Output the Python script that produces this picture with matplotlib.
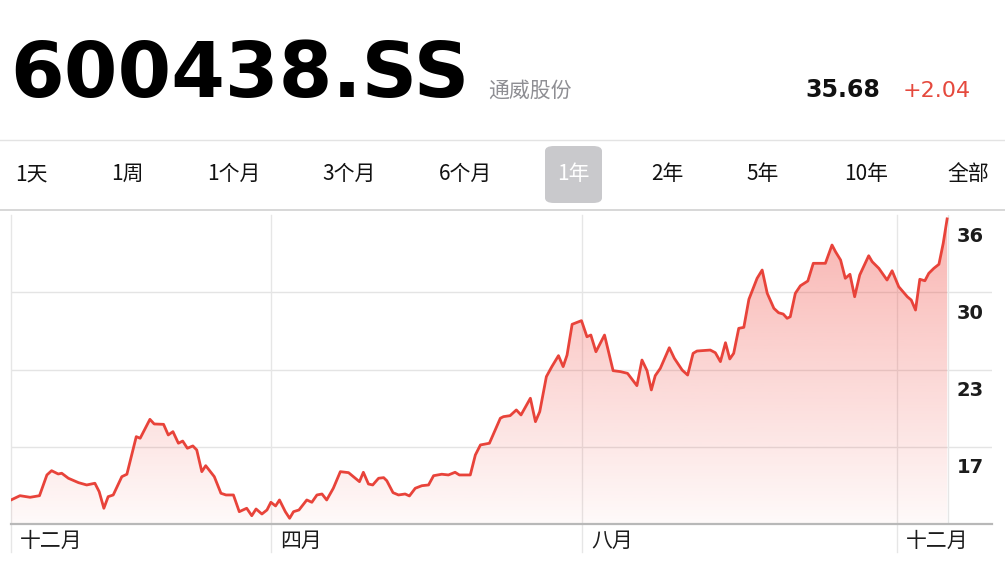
import matplotlib
matplotlib.use("Agg")
import matplotlib.pyplot as plt
import numpy as np
from matplotlib.patches import FancyBboxPatch
from matplotlib.lines import Line2D

plt.rcParams['font.family'] = ['DejaVu Sans', 'Noto Sans CJK SC']

# Header
ticker = "600438.SS"
company = "通威股份"
last_price = "35.68"
change = "+2.04"
ranges = ["1天", "1周", "1个月", "3个月", "6个月", "1年", "2年", "5年", "10年", "全部"]
range_x = [31, 127, 234, 349, 465, 573, 667, 763, 866, 968]  # pixel centres
selected_range = "1年"

# Price series (trading-day index, price)
days = [0, 2.3, 4.9, 7.3, 9.2, 10.4, 12.1, 13.0, 14.7, 17.3, 19.4, 21.5, 22.6, 23.8, 24.9,
        26.2, 28.4, 29.7, 32.1, 33.1, 35.6, 36.7, 39.1, 40.3, 41.5, 42.9, 44.0, 45.2, 46.6,
        47.6, 48.9, 49.9, 52.1, 53.8, 55.1, 57.0, 58.5, 60.4, 61.7, 62.8, 64.3, 65.6, 66.6,
        67.8, 68.8, 70.3, 71.4, 72.4, 73.8, 75.8, 77.1, 78.4, 79.7, 80.9, 82.6, 84.4, 86.5,
        89.3, 90.3, 91.6, 92.7, 94.2, 95.5, 96.3, 97.9, 99.3, 101.0, 102.1, 103.6, 105.3,
        107.0, 108.3, 110.4, 112.1, 113.8, 114.9, 117.7, 119.0, 120.3, 122.6, 125.4, 126.2,
        127.9, 129.5, 130.7, 133.1, 134.4, 135.5, 137.2, 138.6, 140.3, 141.5, 142.5, 143.8,
        146.2, 147.6, 148.6, 149.9, 152.1, 154.3, 156.2, 158.0, 160.4, 161.7, 163.0, 164.1,
        165.1, 166.4, 168.7, 170.0, 172.0, 173.4, 174.8, 175.8, 179.2, 180.5, 181.8, 183.1,
        184.2, 185.2, 186.5, 187.8, 189.1, 191.2, 192.5, 193.8, 195.5, 196.7, 197.9, 198.9,
        199.7, 201.0, 202.3, 204.2, 205.6, 208.7, 210.4, 211.3, 212.6, 213.8, 215.0, 216.2,
        217.5, 219.8, 220.7, 222.4, 224.5, 225.8, 227.5, 229.7, 230.7, 231.8, 232.9, 234.2,
        235.2, 236.5, 237.8, 238.9, 239.9]
prices = [12.64, 12.99, 12.86, 12.99, 14.69, 15.04, 14.77, 14.83, 14.42, 14.06, 13.87, 14.01,
          13.32, 11.96, 12.91, 13.05, 14.55, 14.75, 17.83, 17.70, 19.25, 18.87, 18.84, 17.97,
          18.24, 17.29, 17.47, 16.88, 17.07, 16.74, 14.96, 15.45, 14.55, 13.19, 13.05, 13.05,
          11.68, 11.96, 11.35, 11.90, 11.49, 11.82, 12.45, 12.15, 12.64, 11.68, 11.14, 11.68,
          11.82, 12.64, 12.45, 13.05, 13.13, 12.64, 13.60, 14.96, 14.88, 14.14, 14.91, 13.95,
          13.87, 14.42, 14.47, 14.22, 13.24, 13.05, 13.13, 12.97, 13.60, 13.81, 13.87, 14.63,
          14.75, 14.69, 14.91, 14.69, 14.69, 16.33, 17.15, 17.29, 19.34, 19.47, 19.55, 20.02,
          19.61, 20.98, 19.06, 19.88, 22.75, 23.57, 24.47, 23.57, 24.52, 27.04, 27.34, 26.02,
          26.16, 24.79, 26.16, 23.24, 23.16, 23.02, 22.01, 24.11, 23.24, 21.66, 22.83, 23.43,
          25.12, 24.25, 23.29, 22.88, 24.66, 24.85, 24.93, 24.71, 23.98, 25.53, 24.20, 24.66,
          26.71, 26.79, 29.09, 30.81, 31.49, 29.58, 28.35, 27.99, 27.88, 27.53, 27.66, 29.58,
          30.20, 30.59, 32.04, 32.04, 33.54, 32.99, 32.31, 30.81, 31.14, 29.30, 31.08, 32.66,
          32.17, 31.63, 30.67, 31.43, 30.12, 29.30, 29.03, 28.21, 30.73, 30.61, 31.22, 31.63,
          31.96, 33.68, 35.68]

# Axis ticks
price_ticks = [36, 29.67, 23.33, 17]
price_tick_labels = ["36", "30", "23", "17"]
month_ticks = [0, 66.6, 146.3, 227.1]
month_labels = ["十二月", "四月", "八月", "十二月"]

W, H = 1005, 561
fig = plt.figure(figsize=(W / 100, H / 100), dpi=100)
fig.patch.set_facecolor("white")

def fy(py):
    return (H - py) / H

def fx(px):
    return px / W

# header text
fig.text(fx(10), fy(97), ticker, fontsize=55.5, fontweight="bold", color="black", va="baseline")
fig.text(fx(488), fy(97), company, fontsize=15, color="#8e8e93", va="baseline",
         family=["Noto Sans CJK SC", "DejaVu Sans"])
fig.text(fx(805), fy(97), last_price, fontsize=17, fontweight="bold", color="#111111", va="baseline")
fig.text(fx(903), fy(97), change, fontsize=16, color="#e5493d", va="baseline")

fig.add_artist(Line2D([0, 1], [fy(140), fy(140)], color="#e3e3e3", lw=1))
fig.add_artist(Line2D([0, 1], [fy(210), fy(210)], color="#d4d4d4", lw=1.3))

for lab, px in zip(ranges, range_x):
    col = "#111111"
    if lab == selected_range:
        box = FancyBboxPatch((fx(545), fy(203)), fx(57), (203 - 146) / H,
                             boxstyle="round,pad=0,rounding_size=0.009",
                             transform=fig.transFigure, facecolor="#c9c9cc",
                             edgecolor="none")
        fig.add_artist(box)
        col = "white"
    fig.text(fx(px), fy(174), lab, fontsize=15, color=col, ha="center", va="center",
             family=["Noto Sans CJK SC", "DejaVu Sans"])

# chart
ax = fig.add_axes([fx(11), fy(524), fx(981), (524 - 215) / H])
ax.set_facecolor("white")
for s in ax.spines.values():
    s.set_visible(False)
ax.set_xticks([])
ax.set_yticks([])
ymin, ymax = 10.67, 36.0
ax.set_ylim(ymin, ymax)
ax.set_xlim(0, 251.4)

for v in price_ticks[1:]:
    ax.axhline(v, color="#e4e4e4", lw=1, zorder=1)
for t in month_ticks:
    ax.axvline(t, ymin=-0.09, ymax=1, color="#e6e6e6", lw=1, clip_on=False, zorder=1)
ax.axvline(days[-1] + 0.1, color="#e6e6e6", lw=1, zorder=1)
ax.axhline(ymin, color="#b8b8b8", lw=1.6, zorder=4, clip_on=False)

# gradient fill under the line
poly = ax.fill_between(days, prices, ymin, facecolor="none", edgecolor="none")
n = 256
alpha = np.linspace(0.03, 0.42, n).reshape(-1, 1)
rgba = np.zeros((n, 1, 4))
rgba[..., 0] = 0xf0 / 255
rgba[..., 1] = 0x4a / 255
rgba[..., 2] = 0x42 / 255
rgba[..., 3] = alpha
im = ax.imshow(rgba, extent=[days[0], days[-1], ymin, ymax], origin="lower",
               aspect="auto", zorder=2)
im.set_clip_path(poly.get_paths()[0], transform=ax.transData)

ax.plot(days, prices, color="#e8433a", lw=2.0, zorder=3, solid_joinstyle="round")

for v, lab in zip(price_ticks, price_tick_labels):
    ax.annotate(lab, xy=(245.8, v), xytext=(0, -21), textcoords="offset pixels",
                ha="center", va="center", fontsize=14, fontweight="bold", color="#1c1c1c")

for t, lab in zip(month_ticks, month_labels):
    ax.annotate(lab, xy=(t, ymin), xytext=(9, -17), textcoords="offset pixels",
                ha="left", va="center", fontsize=15, color="#1c1c1c",
                family=["Noto Sans CJK SC", "DejaVu Sans"], annotation_clip=False)

fig.savefig("out.png", dpi=100, facecolor="white")
